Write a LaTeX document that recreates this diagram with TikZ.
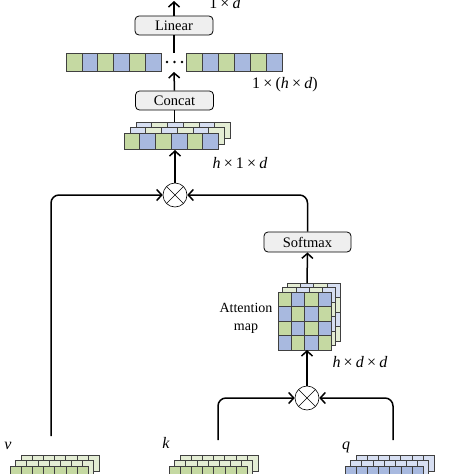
\documentclass[tikz,border=0pt]{standalone}
\usepackage{fontspec}
\setmainfont{Liberation Serif}
\usetikzlibrary{arrows.meta}

\definecolor{cgreen}{HTML}{C5D9A2}
\definecolor{cblue}{HTML}{A8B9DF}
\definecolor{lgreen}{HTML}{E4EDD4}
\definecolor{lblue}{HTML}{D7DFF2}
\definecolor{boxgray}{HTML}{EFEFEF}

\newcommand{\by}{\hspace{0.2em}×\hspace{0.2em}}

\begin{document}
\begin{tikzpicture}[x=1pt,y=-1pt,
  op/.style={draw,rounded corners=4pt,fill=boxgray,line width=0.8pt,inner sep=0pt,
    minimum width=78pt,minimum height=19pt,font=\fontsize{14.5}{16}\selectfont},
  mul/.style={draw,circle,line width=0.6pt,minimum size=24pt,inner sep=0pt,
    path picture={\draw[line width=0.6pt] (path picture bounding box.north west) -- (path picture bounding box.south east)
      (path picture bounding box.north east) -- (path picture bounding box.south west);}},
  lab/.style={font=\fontsize{16}{18}\selectfont,inner sep=0pt},
  flow/.style={line width=1.5pt,-{Straight Barb[length=5pt,width=11pt,line width=1.5pt]},rounded corners=8pt},
  link/.style={line width=1.5pt},
  cell/.style={draw=black!75,line width=0.5pt}]
\clip (0,0) rectangle (474,474);

% blocks
\node[op] (linear) at (174,25.5) {Linear};
\node[op] (concat) at (174.5,100.5) {Concat};
\node[op,minimum width=87pt,minimum height=20pt] (softmax) at (307.5,242) {Softmax};
\node[mul] (mul1) at (175,195) {};
\node[mul] (mul2) at (307,398) {};

% concatenated vector
\foreach \i in {0,...,5} {
  \pgfmathsetmacro{\c}{mod(\i,2)==0 ? "cgreen" : "cblue"}
  \draw[cell,fill=\c] (66+15.83*\i,53) rectangle +(15.83,18);
  \draw[cell,fill=\c] (186+16*\i,53) rectangle +(16,18);
}
\foreach \x in {167,174.5,182} \fill (\x,62) circle (1.4pt);

% heads h x 1 x d
\foreach \l in {2,1,0}
  \foreach \i in {0,...,5} {
    \pgfmathsetmacro{\c}{\l==0 ? (mod(\i,2)==0 ? "cgreen" : "cblue") : (mod(\i,2)==0 ? "lblue" : "lgreen")}
    \draw[cell,fill=\c] (124+6*\l+15.7*\i,133-5.5*\l) rectangle +(15.7,16.5);
  }

% attention map
\foreach \l in {2,1,0}
  \foreach \i in {0,...,3}
    \foreach \j in {0,...,3} {
      \pgfmathsetmacro{\c}{\l==0 ? (mod(\i+\j,2)==0 ? "cgreen" : "cblue") : (mod(\i+\j,2)==0 ? "lgreen" : "lblue")}
      \draw[cell,fill=\c] (278+4.5*\l+13.25*\i,292-4.5*\l+14.5*\j) rectangle +(13.25,14.5);
    }

% inputs v, k, q
\foreach \sx/\ca/\cb in {10/cgreen/lgreen,169/cgreen/lgreen,345/cblue/lblue}
  \foreach \l in {2,1,0}
    \foreach \i in {0,...,6} {
      \pgfmathsetmacro{\c}{\l==0 ? "\ca" : "\cb"}
      \draw[cell,fill=\c] (\sx+5.5*\l+11.15*\i,466-5.5*\l) rectangle +(11.15,16);
    }

\coordinate (out) at (174,1);
\coordinate (striptop) at (174,53);
\coordinate (stripbot) at (174,72);
\coordinate (headtop) at (174.5,122);
\coordinate (headbot) at (175,150);
\coordinate (maptop) at (307,283);
\coordinate (mapbot) at (307,350);
\coordinate (vtop) at (51,436);
\coordinate (ktop) at (218,440);
\coordinate (qtop) at (393,440);

% connectors
\draw[flow] (linear.north) -- (out);
\draw[link] (linear.south) -- (striptop);
\draw[flow] (concat.north) -- (stripbot);
\draw[link] (headtop) -- (concat.south);
\draw[flow] (mul1.north) -- (headbot);
\draw[flow] (vtop) |- (mul1.west);
\draw[flow] (softmax.north) |- (mul1.east);
\draw[flow] (maptop) -- (softmax.south);
\draw[flow] (mul2.north) -- (mapbot);
\draw[flow] (ktop) |- (mul2.west);
\draw[flow] (qtop) |- (mul2.east);

% labels
\node[lab] (dout) at (225,3) {1\by\textit{d}};
\node[lab] (dcat) at (285,85) {1\by(\textit{h}\by\textit{d})};
\node[lab] (dhead) at (240,163) {\textit{h}\by1\by\textit{d}};
\node[lab] (dmap) at (360,362) {\textit{h}\by\textit{d}\by\textit{d}};
\node[align=center,font=\fontsize{14}{18}\selectfont] (maplab) at (246,318) {Attention\\map};
\node[lab] (vlab) at (8,446) {\textit{v}};
\node[lab] (klab) at (166,443) {\textit{k}};
\node[lab] (qlab) at (346,447) {\textit{q}};
\end{tikzpicture}
\end{document}
